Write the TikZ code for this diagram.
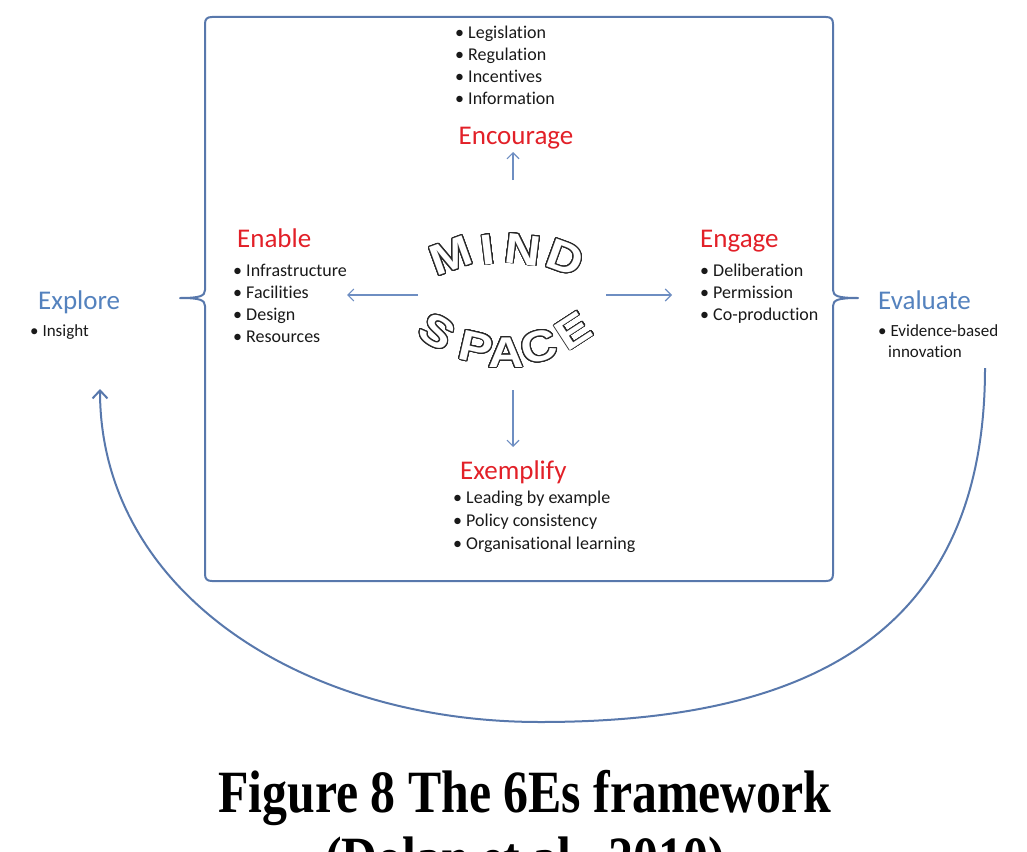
\documentclass[tikz,border=0pt]{standalone}
\usepackage{fontspec}
\setmainfont{Carlito}[Ligatures={NoCommon,NoRare}]
\newfontfamily\titlefont{Liberation Serif}
\newfontfamily\mindfont{Liberation Sans}
\usepackage{contour}
\contourlength{0.9pt}
\contournumber{32}
\usetikzlibrary{arrows.meta}
\definecolor{frameblue}{RGB}{88,120,172}
\definecolor{arrowblue}{RGB}{110,142,194}
\definecolor{headblue}{RGB}{84,130,190}
\definecolor{headred}{RGB}{226,32,40}
\definecolor{txt}{RGB}{25,25,25}
\definecolor{outl}{RGB}{40,40,40}
\tikzset{
  body/.style={anchor=base west, inner sep=0pt, font=\fontsize{18}{22}\selectfont, text=txt},
  redhead/.style={anchor=base west, inner sep=0pt, font=\fontsize{27}{32}\selectfont, text=headred},
  bluehead/.style={anchor=base west, inner sep=0pt, font=\fontsize{27}{32}\selectfont, text=headblue},
  conn/.style={draw=arrowblue, line width=1.1pt, -{Straight Barb[length=6pt,width=12pt]}},
  frame/.style={draw=frameblue, line width=2pt, line join=round},
  cyclearrow/.style={draw=frameblue, line width=2pt, -{Straight Barb[length=8pt,width=15pt]}},
  letter/.style={inner sep=0pt, font=\mindfont\bfseries\fontsize{43}{43}\selectfont},
  caption/.style={inner sep=0pt, anchor=base, font=\titlefont\bfseries\fontsize{60}{66}\selectfont, xscale=0.83}
}
\newcommand{\msl}[1]{\scalebox{1.15}[1]{\textcolor{white}{\contour{outl}{#1}}}}
\begin{document}
\begin{tikzpicture}[x=1pt,y=-1pt]
\useasboundingbox (0,0) rectangle (1027,851);

% frame (double brace box)
\draw[frame] (212,17) -- (826,17) .. controls (831,17) and (833,19) .. (833,24)
  -- (833,290) .. controls (833,296) and (838,298) .. (858,298)
  .. controls (838,298) and (833,300) .. (833,306)
  -- (833,574) .. controls (833,579) and (831,581) .. (826,581)
  -- (212,581) .. controls (207,581) and (205,579) .. (205,574)
  -- (205,306) .. controls (205,300) and (200,298) .. (180,298)
  .. controls (200,298) and (205,296) .. (205,290)
  -- (205,24) .. controls (205,19) and (207,17) .. (212,17) -- cycle;

% Encourage
\node[body] (l1) at (455,38) {• Legislation};
\node[body] (l2) at (455,60) {• Regulation};
\node[body] (l3) at (455,82) {• Incentives};
\node[body] (l4) at (455,104) {• Information};
\node[redhead, anchor=base] (encourage) at (516,144) {Encourage};

% Enable
\node[redhead] (enable) at (237,247) {Enable};
\node[body] (e1) at (233,276) {• Infrastructure};
\node[body] (e2) at (233,298) {• Facilities};
\node[body] (e3) at (233,320) {• Design};
\node[body] (e4) at (233,342) {• Resources};

% Engage
\node[redhead] (engage) at (700,247) {Engage};
\node[body] (g1) at (700,276) {• Deliberation};
\node[body] (g2) at (700,298) {• Permission};
\node[body] (g3) at (700,320) {• Co-production};

% Exemplify
\node[redhead] (exemplify) at (460,479) {Exemplify};
\node[body] (x1) at (453,503) {• Leading by example};
\node[body] (x2) at (453,526) {• Policy consistency};
\node[body] (x3) at (453,549) {• Organisational learning};

% Explore / Evaluate
\node[bluehead] (explore) at (38,309) {Explore};
\node[body, font=\fontsize{17}{21}\selectfont] (ins) at (30,336) {• Insight};
\node[bluehead] (evaluate) at (878,309) {Evaluate};
\node[body, font=\fontsize{17}{21}\selectfont] (ev1) at (878,336) {• Evidence-based};
\node[body, font=\fontsize{17}{21}\selectfont] (ev2) at (888,357) {innovation};

% MIND SPACE
\node[letter, rotate=20] (mM) at (451,256) {\msl{M}};
\node[letter, rotate=7]  (mI) at (488,250) {\msl{I}};
\node[letter, rotate=-7] (mN) at (523,250) {\msl{N}};
\node[letter, rotate=-20] (mD) at (565,258) {\msl{D}};
\node[letter, rotate=-32] (sS) at (437,332) {\msl{S}};
\node[letter, rotate=-13] (sP) at (476,348) {\msl{P}};
\node[letter, rotate=0]  (sA) at (506,353) {\msl{A}};
\node[letter, rotate=15] (sC) at (539,347) {\msl{C}};
\node[letter, rotate=33] (sE) at (574,331) {\msl{E}};

% arrows from MIND SPACE
\coordinate (upS) at (513,180);  \coordinate (upE) at (513,152);
\coordinate (lfS) at (418,295);  \coordinate (lfE) at (347,295);
\coordinate (rtS) at (606,295);  \coordinate (rtE) at (672,295);
\coordinate (dnS) at (513,390);  \coordinate (dnE) at (513,447);
\draw[conn] (upS) -- (upE);
\draw[conn] (lfS) -- (lfE);
\draw[conn] (rtS) -- (rtE);
\draw[conn] (dnS) -- (dnE);

% big cycle arrow from Evaluate back to Explore
\coordinate (cycS) at (985,368);
\coordinate (cycB) at (540,722);
\coordinate (cycE) at (100,389);
\draw[cyclearrow] (cycS) .. controls (985,640) and (800,722) .. (cycB)
  .. controls (300,722) and (100,590) .. (cycE);

% caption
\node[caption] (cap1) at (525,812) {Figure 8 The 6Es framework};
\node[caption] (cap2) at (525,878) {(Dolan et al., 2010)};
\end{tikzpicture}
\end{document}
